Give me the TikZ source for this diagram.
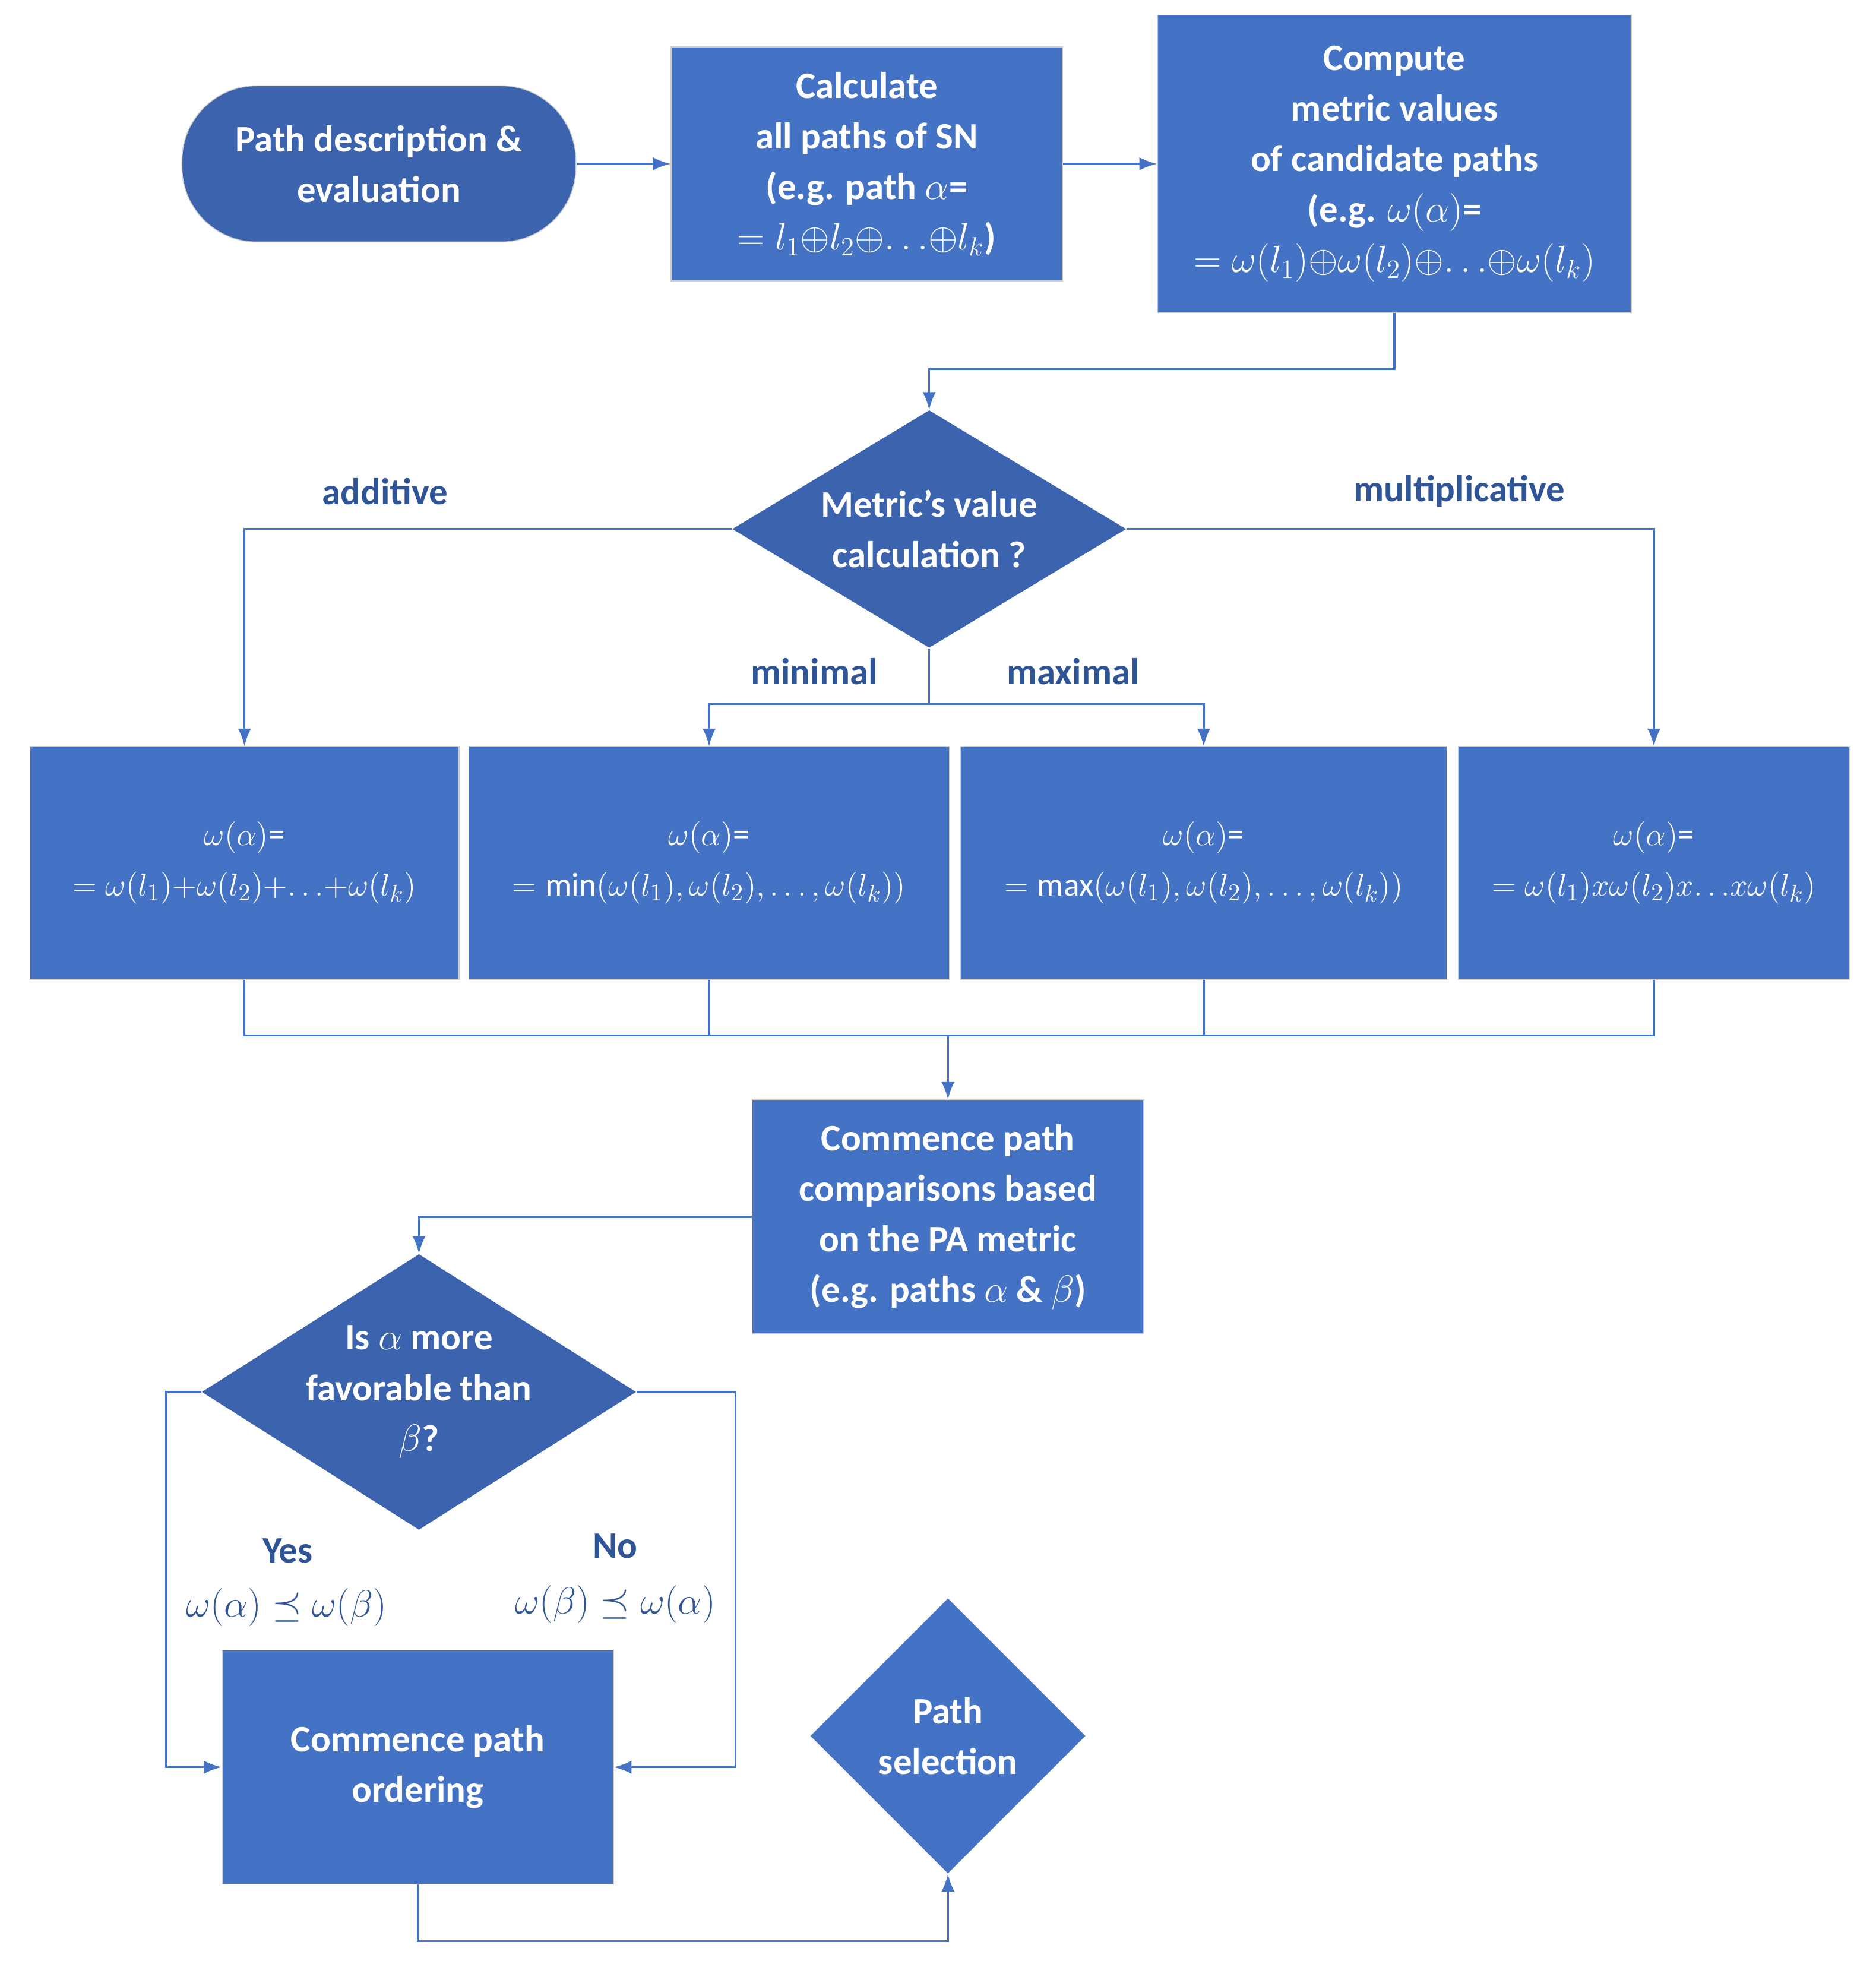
\documentclass[tikz,border=0pt]{standalone}
\usepackage{fontspec}
\setmainfont{Carlito}
\usetikzlibrary{arrows.meta, positioning, shapes.geometric}
\definecolor{boxblue}{HTML}{4472C4}
\definecolor{darkblue}{HTML}{3C63AD}
\definecolor{labelblue}{HTML}{2F5597}
\tikzset{box/.style={rectangle, fill=boxblue, draw=gray!40, text=white, align=center, font=\bfseries\fontsize{17}{23}\selectfont, inner sep=1pt},
         formula/.style={box, font=\fontsize{15}{23}\selectfont},
         decision/.style={diamond, aspect=#1, fill=darkblue, text=white, align=center, font=\bfseries\fontsize{17}{23}\selectfont, inner sep=0pt},
         decision/.default=1.6,
         link/.style={draw=boxblue, line width=0.9pt, -{Latex[length=8pt,width=6pt]}},
         tag/.style={text=labelblue, font=\bfseries\fontsize{17}{20}\selectfont}}
\begin{document}
\begin{tikzpicture}[x=0.02cm, y=-0.02cm]
    \useasboundingbox (0,0) rectangle (1500,1568);
    %Top row
    \node[box, fill=darkblue, rounded corners=1.2cm, minimum width=315*0.02cm, minimum height=125*0.02cm] (start) at (303,131) {Path description \&\\evaluation};
    \node[box, minimum width=313*0.02cm, minimum height=187*0.02cm] (paths) at (693,131) {Calculate\\all paths of SN\\(e.g. path $\alpha$=\\$=l_1{\oplus}l_2{\oplus}{\dots}{\oplus}l_k$)};
    \node[box, minimum width=379*0.02cm, minimum height=238*0.02cm] (compute) at (1115,131) {Compute\\metric values\\of candidate paths\\(e.g. $\omega(\alpha)$=\\$=\omega(l_1){\oplus}\omega(l_2){\oplus}{\dots}{\oplus}\omega(l_k)$};
    %Decision on metric
    \node[decision, minimum width=315*0.02cm, minimum height=190*0.02cm] (metric) at (743,423) {Metric's value\\calculation ?};
    %Formula row
    \node[formula, minimum width=343*0.02cm, minimum height=186*0.02cm] (add) at (195.5,690) {$\omega(\alpha)$=\\$=\omega(l_1){+}\omega(l_2){+}{\dots}{+}\omega(l_k)$};
    \node[formula, minimum width=384*0.02cm, minimum height=186*0.02cm] (min) at (567,690) {$\omega(\alpha)$=\\$=\min(\omega(l_1),\omega(l_2),\dots,\omega(l_k))$};
    \node[formula, minimum width=389*0.02cm, minimum height=186*0.02cm] (max) at (962.5,690) {$\omega(\alpha)$=\\$=\max(\omega(l_1),\omega(l_2),\dots,\omega(l_k))$};
    \node[formula, minimum width=313*0.02cm, minimum height=186*0.02cm] (mul) at (1322.5,690) {$\omega(\alpha)$=\\$=\omega(l_1)x\omega(l_2)x{\dots}x\omega(l_k)$};
    %Comparison
    \node[box, minimum width=313*0.02cm, minimum height=187*0.02cm] (compare) at (758,973) {Commence path\\comparisons based\\on the PA metric\\(e.g. paths $\alpha$ \& $\beta$)};
    \node[decision=1.575, minimum width=315*0.02cm, minimum height=200*0.02cm] (favor) at (335,1113) {Is $\alpha$ more\\favorable than\\$\beta$?};
    \node[box, minimum width=313*0.02cm, minimum height=187*0.02cm] (order) at (334,1413) {Commence path\\ordering};
    \node[decision=1, fill=boxblue, minimum width=220*0.02cm, minimum height=220*0.02cm] (select) at (758,1388) {Path\\selection};
    %Connectors
    \draw[link] (start) -- (paths);
    \draw[link] (paths) -- (compute);
    \draw[link] (compute.south) |- (900,295) -| (metric.north);
    \draw[link] (metric.west) -| (add.north);
    \draw[link] (metric.east) -| (mul.north);
    \draw[draw=boxblue, line width=0.9pt] (metric.south) -- (743,563) coordinate (split);
    \draw[link] (split) -| (min.north);
    \draw[link] (split) -| (max.north);
    \node[tag] at (308,393) {additive};
    \node[tag] at (1167,393) {multiplicative};
    \node[tag] at (651,537) {minimal};
    \node[tag] at (858,537) {maximal};
    \coordinate (join) at (758,828);
    \foreach \n in {add, min, max, mul}
      \draw[draw=boxblue, line width=0.9pt] (\n.south) |- (join);
    \draw[link] (join) -- (compare.north);
    \draw[link] (compare.west) -| (favor.north);
    \draw[link] (favor.west) -- (133,1113) |- (order.west);
    \draw[link] (favor.east) -- (588,1113) |- (order.east);
    \node[tag] at (230,1240) {Yes};
    \node[tag] at (229,1285) {$\omega(\alpha)\preceq\omega(\beta)$};
    \node[tag] at (492,1236) {No};
    \node[tag] at (492,1283) {$\omega(\beta)\preceq\omega(\alpha)$};
    \draw[link] (order.south) -- (334,1552) -| (select.south);
\end{tikzpicture}
\end{document}
